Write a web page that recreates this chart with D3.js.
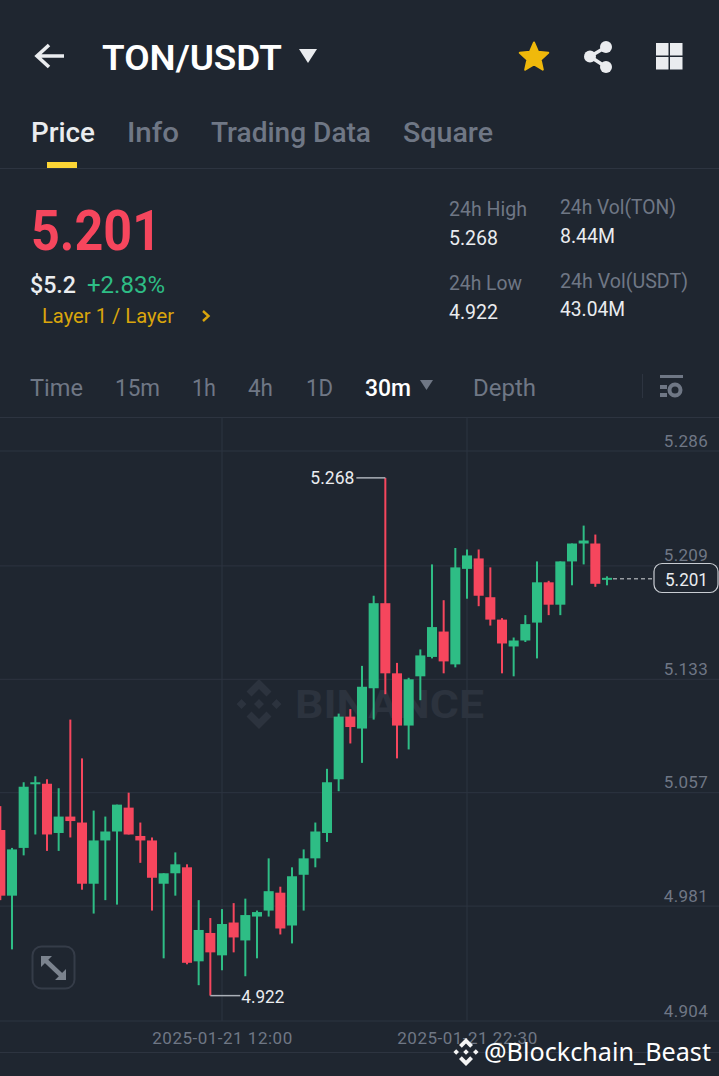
<!DOCTYPE html>
<html>
<head>
<meta charset="utf-8">
<script src="https://cdn.jsdelivr.net/npm/d3@7"></script>
<style>
  html, body { margin: 0; padding: 0; background: #1f2630; overflow: hidden; }
  svg { display: block; }
  text { font-family: Roboto, "Noto Sans", sans-serif; }
</style>
</head>
<body>
<script>
// 30m candles, first one is 2025-01-21 02:30 UTC
var opens = [5.032,4.988,5.020,5.063,5.063,5.030,5.041,5.037,4.996,5.025,5.031,5.047,5.028,5.025,4.996,5.003,
  5.007,4.944,4.963,4.948,4.970,4.958,4.974,4.978,4.990,4.968,5.002,5.013,5.030,5.066,5.108,5.100,5.127,5.184,
  5.137,5.102,5.135,5.148,5.165,5.143,5.207,5.214,5.188,5.173,5.155,5.159,5.171,5.198,5.183,5.212,5.224,5.224,5.200];
var highs = [5.048,5.020,5.064,5.068,5.066,5.060,5.106,5.080,5.045,5.041,5.049,5.057,5.037,5.027,5.003,5.017,
  5.009,4.985,4.973,4.979,4.983,4.986,4.978,5.013,4.994,5.007,5.019,5.037,5.073,5.110,5.113,5.142,5.189,5.268,
  5.144,5.134,5.153,5.210,5.186,5.221,5.220,5.220,5.208,5.174,5.161,5.176,5.212,5.199,5.212,5.224,5.236,5.230,5.202];
var lows = [4.985,4.952,5.015,5.029,5.018,5.018,5.027,4.992,4.976,4.985,4.982,5.029,5.010,4.978,4.946,4.988,
  4.942,4.928,4.921,4.938,4.950,4.934,4.946,4.974,4.962,4.956,4.978,5.007,5.024,5.058,5.090,5.077,5.106,5.123,
  5.080,5.086,5.119,5.147,5.137,5.141,5.187,5.182,5.169,5.137,5.135,5.158,5.147,5.176,5.176,5.196,5.210,5.195,5.196];
var closes = [4.988,5.019,5.061,5.064,5.029,5.041,5.038,4.996,5.025,5.031,5.049,5.029,5.025,5.000,5.003,5.009,
  4.943,4.965,4.950,4.969,4.960,4.975,4.977,4.991,4.966,5.001,5.013,5.031,5.064,5.108,5.101,5.128,5.184,5.137,
  5.102,5.133,5.149,5.168,5.145,5.208,5.216,5.189,5.173,5.157,5.159,5.170,5.198,5.183,5.212,5.224,5.226,5.197,5.201];

var priceTicks = [5.286, 5.209, 5.133, 5.057, 4.981, 4.904];
var timeTicks = [new Date(Date.UTC(2025, 0, 21, 12, 0)), new Date(Date.UTC(2025, 0, 21, 22, 30))];
var firstTime = new Date(Date.UTC(2025, 0, 21, 2, 30));
var lastPrice = 5.201, dayHigh = 5.268, dayLow = 4.922;

var width = 719, height = 1076;
var bg = '#1f2630', up = '#2ebd85', down = '#f6465d', line = '#2d3440', white = '#eaecef', grey = '#6f7785';

var svg = d3.select('body').append('svg')
    .attr('width', width)
    .attr('height', height);

svg.append('rect').attr('width', width).attr('height', height).attr('fill', bg);

// text helper, w forces the measured width since the app font isn't installed
function label(x, y, s, size, color, w, weight) {
  var t = svg.append('text')
      .attr('x', x).attr('y', y)
      .attr('font-size', size)
      .attr('font-weight', weight || 400)
      .attr('fill', color)
      .text(s);
  if (w) t.attr('textLength', w).attr('lengthAdjust', 'spacingAndGlyphs');
  return t;
}

function binanceLogo(cx, cy, r, color) {
  var d = 'M0,-1L.5,-.5L.3,-.3L0,-.6L-.3,-.3L-.5,-.5Z' +
          'M0,1L.5,.5L.3,.3L0,.6L-.3,.3L-.5,.5Z' +
          'M0,-.2L.2,0L0,.2L-.2,0Z' +
          'M-.7,-.2L-.5,0L-.7,.2L-.9,0Z' +
          'M.7,-.2L.9,0L.7,.2L.5,0Z';
  svg.append('path')
      .attr('d', d)
      .attr('transform', 'translate(' + cx + ',' + cy + ') scale(' + r + ')')
      .attr('fill', color);
}

// header
svg.append('path')
    .attr('d', 'M64,56H38M49,45L37,56L49,67')
    .attr('fill', 'none').attr('stroke', white).attr('stroke-width', 3.6);
label(102, 70, 'TON/USDT', 35, '#fff', 180, 600);
svg.append('path').attr('d', 'M299,49H317L308,63Z').attr('fill', white);

var star = d3.range(10).map(function (i) {
  var a = i * Math.PI / 5, r = i % 2 ? 7 : 15;
  return [534 + r * Math.sin(a), 57.5 - r * Math.cos(a)];
});
svg.append('path').attr('d', d3.line().curve(d3.curveLinearClosed)(star))
    .attr('fill', '#f0b90b').attr('stroke', '#f0b90b').attr('stroke-width', 2).attr('stroke-linejoin', 'round');

svg.append('path').attr('d', 'M606,47L590,56.5L606,67')
    .attr('fill', 'none').attr('stroke', white).attr('stroke-width', 3.5);
[[606, 47], [590, 56.5], [606, 67]].forEach(function (c) {
  svg.append('circle').attr('cx', c[0]).attr('cy', c[1]).attr('r', 6).attr('fill', white);
});
[[656, 43], [670, 43], [656, 57], [670, 57]].forEach(function (c) {
  svg.append('rect').attr('x', c[0]).attr('y', c[1]).attr('width', 12.5).attr('height', 12.5).attr('fill', white);
});

label(31, 142, 'Price', 28, white, 64, 500);
label(127, 142, 'Info', 28, grey, 52, 500);
label(211, 142, 'Trading Data', 28, grey, 160, 500);
label(403, 142, 'Square', 28, grey, 90, 500);
svg.append('rect').attr('x', 47).attr('y', 162).attr('width', 30).attr('height', 6).attr('fill', '#fcd535');
svg.append('rect').attr('x', 0).attr('y', 168).attr('width', width).attr('height', 1).attr('fill', line);

// price block
label(31, 250, '5.201', 56, down, 130, 700);
label(30, 293, '$5.2', 24, white, 46, 500);
label(87, 293, '+2.83%', 24, up, 78, 400);
label(42, 323, 'Layer 1 / Layer', 21, '#d9a50c', 132);
svg.append('path').attr('d', 'M203,311L208.5,316L203,321')
    .attr('fill', 'none').attr('stroke', '#d9a50c').attr('stroke-width', 2.4);

label(449, 216, '24h High', 21, grey, 78);
label(449, 245, '5.268', 20, white, 49);
label(449, 290, '24h Low', 21, grey, 73);
label(449, 319, '4.922', 20, white, 49);
label(560, 214, '24h Vol(TON)', 21, grey, 116);
label(560, 243, '8.44M', 20, white, 55);
label(560, 288, '24h Vol(USDT)', 21, grey, 128);
label(560, 316, '43.04M', 20, white, 65);

// interval row
label(30, 396, 'Time', 24, grey, 53);
label(115, 396, '15m', 24, grey, 45);
label(192, 396, '1h', 24, grey, 24);
label(248, 396, '4h', 24, grey, 25);
label(306, 396, '1D', 24, grey, 27);
label(365, 396, '30m', 24, '#fff', 46, 500);
svg.append('path').attr('d', 'M420,380H433L426.5,390Z').attr('fill', grey);
label(473, 396, 'Depth', 24, grey, 63);
svg.append('rect').attr('x', 642).attr('y', 374).attr('width', 1).attr('height', 24).attr('fill', line);
svg.append('path').attr('d', 'M660,375H683V378H660ZM660,385H667V389H660ZM660,393H667V397H660Z').attr('fill', grey);
svg.append('circle').attr('cx', 675).attr('cy', 390).attr('r', 5.5)
    .attr('fill', 'none').attr('stroke', grey).attr('stroke-width', 4);

// chart
var x = d3.scaleUtc().domain(timeTicks).range([222, 467]);
var y = d3.scaleLinear().domain([4.904, 5.286]).range([1021, 451]);

var times = opens.map(function (d, i) { return d3.utcMinute.offset(firstTime, i * 30); });
var bodyW = (x(times[1]) - x(times[0])) * 0.86;

var candles = opens.map(function (d, i) {
  return { t: times[i], o: d, h: highs[i], l: lows[i], c: closes[i] };
});

svg.append('rect').attr('x', 0).attr('y', 417).attr('width', width).attr('height', 1).attr('fill', line);
svg.append('rect').attr('x', 0).attr('y', 1052).attr('width', width).attr('height', 1).attr('fill', line);

svg.append('g').selectAll('line')
    .data(priceTicks)
  .enter().append('line')
    .attr('x1', 0).attr('x2', width)
    .attr('y1', function (d) { return y(d); })
    .attr('y2', function (d) { return y(d); })
    .attr('stroke', line);

svg.append('g').selectAll('line')
    .data(timeTicks)
  .enter().append('line')
    .attr('x1', function (d) { return x(d); })
    .attr('x2', function (d) { return x(d); })
    .attr('y1', 417).attr('y2', 1021)
    .attr('stroke', line);

// watermark sits under the candles
binanceLogo(259, 704, 25, '#2c333e');
label(295, 718, 'BINANCE', 39, '#2c333e', 189, 700);

var yAxis = d3.axisLeft(y).tickValues(priceTicks).tickSize(0).tickPadding(0).tickFormat(d3.format('.3f'));
var yg = svg.append('g').attr('transform', 'translate(708,0)').call(yAxis);
yg.select('.domain').remove();
yg.selectAll('text')
    .attr('dy', -5)
    .attr('font-size', 17)
    .attr('letter-spacing', 0.3)
    .style('font-family', 'Roboto')
    .attr('fill', grey);

var xAxis = d3.axisBottom(x).tickValues(timeTicks).tickSize(0).tickPadding(0)
    .tickFormat(d3.utcFormat('%Y-%m-%d %H:%M'));
var xg = svg.append('g').attr('transform', 'translate(0,1021)').call(xAxis);
xg.select('.domain').remove();
xg.selectAll('text')
    .attr('y', 23)
    .attr('dy', 0)
    .attr('font-size', 17)
    .attr('letter-spacing', 0.5)
    .style('font-family', 'Roboto')
    .attr('fill', grey);

var candle = svg.append('g').selectAll('g')
    .data(candles)
  .enter().append('g')
    .attr('fill', function (d) { return d.c >= d.o ? up : down; });

candle.append('rect')
    .attr('x', function (d) { return x(d.t) - 1; })
    .attr('width', 2)
    .attr('y', function (d) { return y(d.h); })
    .attr('height', function (d) { return y(d.l) - y(d.h); });

candle.append('rect')
    .attr('x', function (d) { return x(d.t) - bodyW / 2; })
    .attr('width', bodyW)
    .attr('y', function (d) { return y(Math.max(d.o, d.c)); })
    .attr('height', function (d) { return Math.max(2, Math.abs(y(d.o) - y(d.c))); });

// high / low callouts
var hiTime = times[highs.indexOf(d3.max(highs))], loTime = times[lows.indexOf(d3.min(lows))];
svg.append('line')
    .attr('x1', x(hiTime)).attr('x2', x(hiTime) - 29)
    .attr('y1', y(dayHigh)).attr('y2', y(dayHigh))
    .attr('stroke', '#aab0b8').attr('stroke-width', 1.5);
label(x(hiTime) - 75, y(dayHigh) + 6, d3.format('.3f')(dayHigh), 18, white, 44);
svg.append('line')
    .attr('x1', x(loTime)).attr('x2', x(loTime) + 30)
    .attr('y1', y(d3.min(lows))).attr('y2', y(d3.min(lows)))
    .attr('stroke', '#aab0b8').attr('stroke-width', 1.5);
label(x(loTime) + 31, y(d3.min(lows)) + 7, d3.format('.3f')(dayLow), 18, white, 43);

// last price tag
svg.append('line')
    .attr('x1', x(times[times.length - 1]) + 6).attr('x2', 654)
    .attr('y1', y(lastPrice) + 1).attr('y2', y(lastPrice) + 1)
    .attr('stroke', '#d5d8dc').attr('stroke-dasharray', '4 3');
svg.append('rect')
    .attr('x', 654).attr('y', 563.5).attr('width', 64).attr('height', 29).attr('rx', 8)
    .attr('fill', bg).attr('stroke', '#c8ccd2').attr('stroke-width', 1.2);
label(665, 586, d3.format('.3f')(lastPrice), 18, white, 43);

// expand button
svg.append('rect')
    .attr('x', 32.5).attr('y', 946.5).attr('width', 42).attr('height', 42).attr('rx', 9)
    .attr('fill', 'none').attr('stroke', '#353c48').attr('stroke-width', 2);
svg.append('path')
    .attr('d', 'M41,956H52L41,967ZM66,980H55L66,969Z').attr('fill', '#7b838e');
svg.append('path')
    .attr('d', 'M44,959L63,977')
    .attr('stroke', '#7b838e').attr('stroke-width', 4.5);

// repost credit
binanceLogo(466, 1052, 14, '#f4f4f4');
label(484, 1061, '@Blockchain_Beast', 26, '#fff', 227).style('font-family', '"Noto Sans"');
</script>
</body>
</html>
